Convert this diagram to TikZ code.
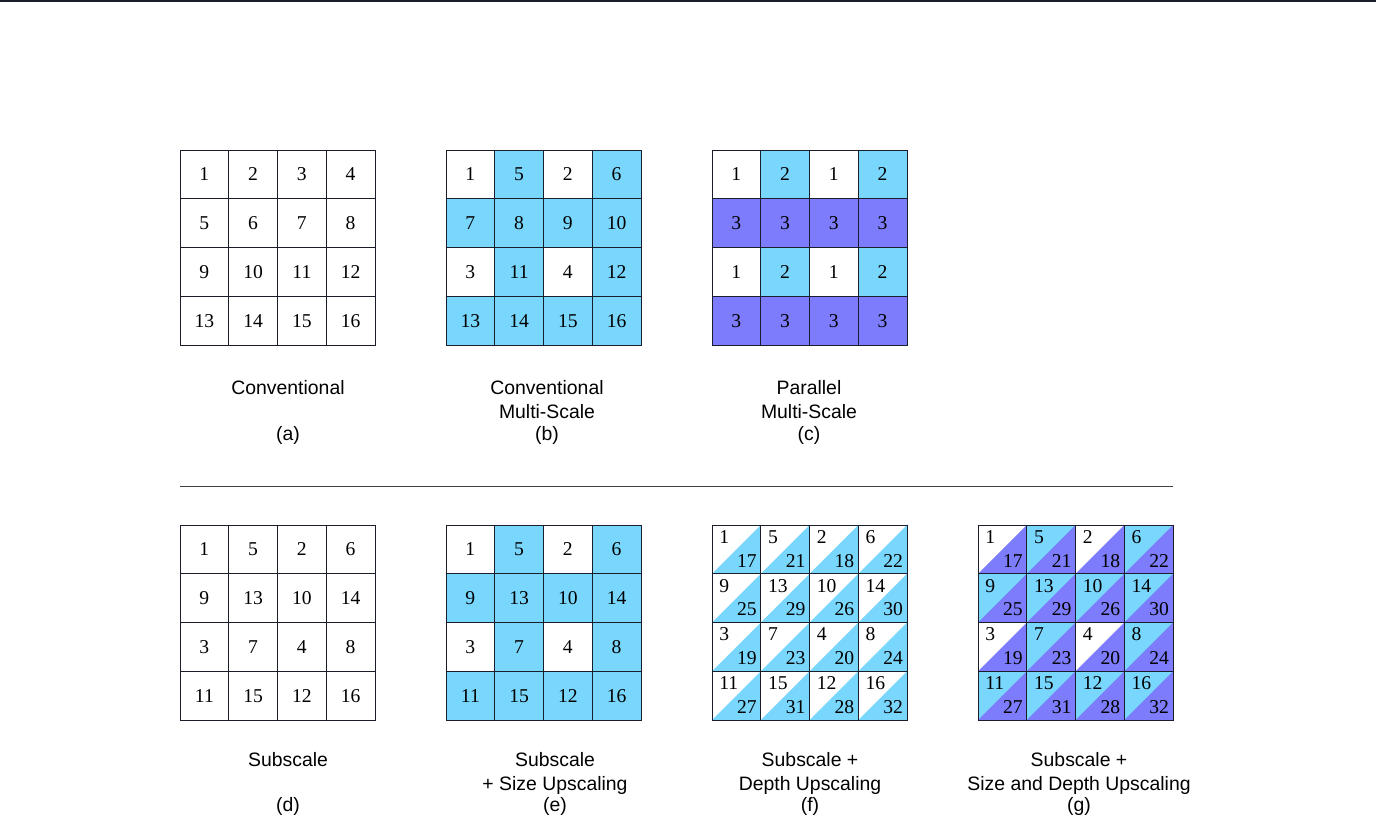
\documentclass[tikz,border=0pt]{standalone}
\usepackage{fontspec}
\setmainfont{Liberation Serif}
\setsansfont{Liberation Sans}
\usepackage{xcolor}
\usetikzlibrary{positioning}
\definecolor{scaleCyan}{RGB}{121,214,253}
\definecolor{scaleViolet}{RGB}{124,124,252}
\definecolor{gridInk}{RGB}{25,30,42}

\begin{document}
\begin{tikzpicture}[
  x=0.5pt, y=-0.5pt,
  cell/.style={
    draw=gridInk,
    line width=0.5pt,
    fill=#1,
    minimum size=24.375pt,
    inner sep=0pt,
    outer sep=0pt,
    font=\fontsize{9.8}{10}\selectfont
  },
  cell/.default=white,
  split/.style 2 args={
    cell=#1,
    path picture={\fill[#2] (path picture bounding box.south west)
      -| (path picture bounding box.north east) -- cycle;}
  },
  hi/.style={anchor=north west, inner xsep=3.5pt, inner ysep=2.5pt,
    font=\fontsize{9.8}{10}\selectfont},
  lo/.style={anchor=south east, inner xsep=1.8pt, inner ysep=3pt,
    font=\fontsize{9.8}{10}\selectfont},
  caption/.style={
    font=\sffamily\fontsize{9.7}{12}\selectfont,
    align=center,
    anchor=north,
    inner sep=0pt
  },
  tag/.style={font=\sffamily\fontsize{9.7}{12}\selectfont, anchor=base, inner sep=0pt}
]
  \useasboundingbox (0,0) rectangle (1376,819);

  % rules
  \draw[gridInk, line width=1pt] (0,1) -- (1376,1);
  \draw[black!75, line width=0.5pt] (180,486) -- (1173,486);

  % (a) conventional
  \foreach \lab [count=\k from 0] in {1,...,16} {
    \pgfmathtruncatemacro\col{mod(\k,4)}
    \pgfmathtruncatemacro\row{div(\k,4)}
    \node[cell] (a-\k) at ({204.375+48.75*\col},{174.375+48.75*\row}) {\lab};
  }

  % (b) conventional multi-scale
  \foreach \lab/\fc [count=\k from 0] in {1/white,5/scaleCyan,2/white,6/scaleCyan,
      7/scaleCyan,8/scaleCyan,9/scaleCyan,10/scaleCyan,
      3/white,11/scaleCyan,4/white,12/scaleCyan,
      13/scaleCyan,14/scaleCyan,15/scaleCyan,16/scaleCyan} {
    \pgfmathtruncatemacro\col{mod(\k,4)}
    \pgfmathtruncatemacro\row{div(\k,4)}
    \node[cell=\fc] (b-\k) at ({470.375+48.75*\col},{174.375+48.75*\row}) {\lab};
  }

  % (c) parallel multi-scale
  \foreach \lab/\fc [count=\k from 0] in {1/white,2/scaleCyan,1/white,2/scaleCyan,
      3/scaleViolet,3/scaleViolet,3/scaleViolet,3/scaleViolet,
      1/white,2/scaleCyan,1/white,2/scaleCyan,
      3/scaleViolet,3/scaleViolet,3/scaleViolet,3/scaleViolet} {
    \pgfmathtruncatemacro\col{mod(\k,4)}
    \pgfmathtruncatemacro\row{div(\k,4)}
    \node[cell=\fc] (c-\k) at ({736.375+48.75*\col},{174.375+48.75*\row}) {\lab};
  }

  % (d) subscale
  \foreach \lab [count=\k from 0] in {1,5,2,6,9,13,10,14,3,7,4,8,11,15,12,16} {
    \pgfmathtruncatemacro\col{mod(\k,4)}
    \pgfmathtruncatemacro\row{div(\k,4)}
    \node[cell] (d-\k) at ({204.375+48.75*\col},{549.375+48.75*\row}) {\lab};
  }

  % (e) subscale + size upscaling
  \foreach \lab/\fc [count=\k from 0] in {1/white,5/scaleCyan,2/white,6/scaleCyan,
      9/scaleCyan,13/scaleCyan,10/scaleCyan,14/scaleCyan,
      3/white,7/scaleCyan,4/white,8/scaleCyan,
      11/scaleCyan,15/scaleCyan,12/scaleCyan,16/scaleCyan} {
    \pgfmathtruncatemacro\col{mod(\k,4)}
    \pgfmathtruncatemacro\row{div(\k,4)}
    \node[cell=\fc] (e-\k) at ({470.375+48.75*\col},{549.375+48.75*\row}) {\lab};
  }

  % (f) subscale + depth upscaling
  \foreach \lab/\low [count=\k from 0] in {1/17,5/21,2/18,6/22,9/25,13/29,10/26,14/30,
      3/19,7/23,4/20,8/24,11/27,15/31,12/28,16/32} {
    \pgfmathtruncatemacro\col{mod(\k,4)}
    \pgfmathtruncatemacro\row{div(\k,4)}
    \node[split={white}{scaleCyan}] (f-\k) at ({736.375+48.75*\col},{549.375+48.75*\row}) {};
    \node[hi] (f-\k-hi) at (f-\k.north west) {\lab};
    \node[lo] (f-\k-lo) at (f-\k.south east) {\low};
  }

  % (g) subscale + size and depth upscaling
  \foreach \lab/\low/\fc [count=\k from 0] in {1/17/white,5/21/scaleCyan,2/18/white,6/22/scaleCyan,
      9/25/scaleCyan,13/29/scaleCyan,10/26/scaleCyan,14/30/scaleCyan,
      3/19/white,7/23/scaleCyan,4/20/white,8/24/scaleCyan,
      11/27/scaleCyan,15/31/scaleCyan,12/28/scaleCyan,16/32/scaleCyan} {
    \pgfmathtruncatemacro\col{mod(\k,4)}
    \pgfmathtruncatemacro\row{div(\k,4)}
    \node[split={\fc}{scaleViolet}] (g-\k) at ({1002.375+48.75*\col},{549.375+48.75*\row}) {};
    \node[hi] (g-\k-hi) at (g-\k.north west) {\lab};
    \node[lo] (g-\k-lo) at (g-\k.south east) {\low};
  }

  % captions
  \node[caption] (capA) at (288,380) {Conventional};
  \node[tag] (tagA) at (288,440) {(a)};
  \node[caption] (capB) at (547,380) {Conventional\\Multi-Scale};
  \node[tag] (tagB) at (547,440) {(b)};
  \node[caption] (capC) at (809,380) {Parallel\\Multi-Scale};
  \node[tag] (tagC) at (809,440) {(c)};
  \node[caption] (capD) at (288,752) {Subscale};
  \node[tag] (tagD) at (288,811) {(d)};
  \node[caption] (capE) at (555,752) {Subscale\\+ Size Upscaling};
  \node[tag] (tagE) at (555,811) {(e)};
  \node[caption] (capF) at (810,752) {Subscale +\\Depth Upscaling};
  \node[tag] (tagF) at (810,811) {(f)};
  \node[caption] (capG) at (1079,752) {Subscale +\\Size and Depth Upscaling};
  \node[tag] (tagG) at (1079,811) {(g)};
\end{tikzpicture}
\end{document}
